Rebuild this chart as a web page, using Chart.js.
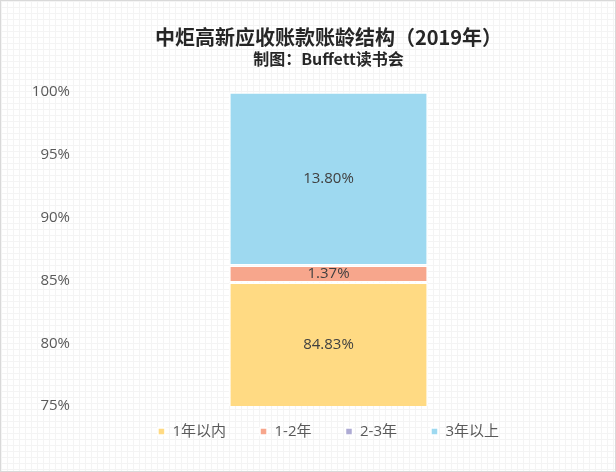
<!DOCTYPE html>
<html>
<head>
<meta charset="utf-8">
<script src="https://cdn.jsdelivr.net/npm/chart.js@4.4.1/dist/chart.umd.min.js"></script>
<style>
    html, body { margin: 0; padding: 0; background: #fff; }
    .chart-card {
        width: 616px;
        height: 472px;
        box-sizing: border-box;
        border: 1px solid #d9d9d9;
        background-color: #fff;
        background-image:
            linear-gradient(to right, #f4f4f4 1px, transparent 1px),
            linear-gradient(to bottom, #f4f4f4 1px, transparent 1px);
        background-size: 6px 6px;
    }
    .chart-card canvas { display: block; }
</style>
</head>
<body>
<div class="chart-card">
    <canvas id="agingChart" width="614" height="470"></canvas>
</div>
<script>
// Chart data
const categories = ['2019'];
const seriesNames = ['1年以内', '1-2年', '2-3年', '3年以上'];
const seriesValues = [84.83, 1.37, 0, 13.80];
const seriesColors = ['#FFDA83', '#F7A68C', '#AEABD4', '#9ED9F0'];
const tickValues = [75, 80, 85, 90, 95, 100];

const FONT = '"Open Sans", "Noto Sans CJK SC", sans-serif';
const TITLE_FONT = '"Noto Sans CJK SC", sans-serif';

// Draw value labels in the middle of each segment
const segmentLabels = {
    id: 'segmentLabels',
    afterDatasetsDraw(chart) {
        const ctx = chart.ctx;
        ctx.save();
        ctx.font = '15px ' + FONT;
        ctx.fillStyle = '#404040';
        ctx.textAlign = 'center';
        ctx.textBaseline = 'middle';
        chart.data.datasets.forEach((ds, i) => {
            const meta = chart.getDatasetMeta(i);
            meta.data.forEach((bar, j) => {
                const v = ds.data[j];
                if (!v) return;
                const top = Math.max(bar.y, chart.chartArea.top);
                const bottom = Math.min(bar.base, chart.chartArea.bottom);
                ctx.fillText(v.toFixed(2) + '%', bar.x, (top + bottom) / 2);
            });
        });
        ctx.restore();
    }
};

// Pull the legend a bit closer to the plot (wide item spacing otherwise pushes it down)
const legendShift = {
    id: 'legendShift',
    afterLayout(chart) {
        if (!chart.legend) return;
        chart.legend.top -= 16;
        chart.legend.bottom -= 16;
    }
};

const datasets = seriesNames.map((name, i) => ({
    label: name,
    data: [seriesValues[i]],
    backgroundColor: seriesColors[i],
    borderColor: '#ffffff',
    borderWidth: 1.5,
    borderSkipped: false,
    barPercentage: 0.4,
    categoryPercentage: 1
}));

new Chart(document.getElementById('agingChart'), {
    type: 'bar',
    data: { labels: categories, datasets: datasets },
    plugins: [segmentLabels, legendShift],
    options: {
        responsive: false,
        animation: false,
        layout: { padding: { top: 24, right: 38, bottom: 6, left: 9 } },
        plugins: {
            title: {
                display: true,
                fullSize: false,
                text: '中炬高新应收账款账龄结构（2019年）',
                color: '#262626',
                font: { family: TITLE_FONT, size: 20, weight: 'bold' },
                padding: { top: 0, bottom: 0 }
            },
            subtitle: {
                display: true,
                fullSize: false,
                text: '制图：Buffett读书会',
                color: '#262626',
                font: { family: TITLE_FONT, size: 16, weight: 'bold' },
                padding: { top: 0, bottom: 24 }
            },
            legend: {
                position: 'bottom',
                fullSize: false,
                labels: {
                    boxWidth: 7,
                    boxHeight: 7,
                    padding: 34,
                    color: '#595959',
                    font: { family: FONT, size: 15 }
                }
            },
            tooltip: { enabled: false }
        },
        scales: {
            x: {
                stacked: true,
                display: false
            },
            y: {
                stacked: true,
                min: 75,
                max: 100,
                afterBuildTicks: scale => {
                    scale.ticks = tickValues.map(v => ({ value: v }));
                },
                afterFit: scale => { scale.width = 70; },
                grid: { display: false },
                border: { display: false },
                ticks: {
                    color: '#595959',
                    padding: 2,
                    font: { family: FONT, size: 15 },
                    callback: value => value + '%'
                }
            }
        }
    }
});
</script>
</body>
</html>
